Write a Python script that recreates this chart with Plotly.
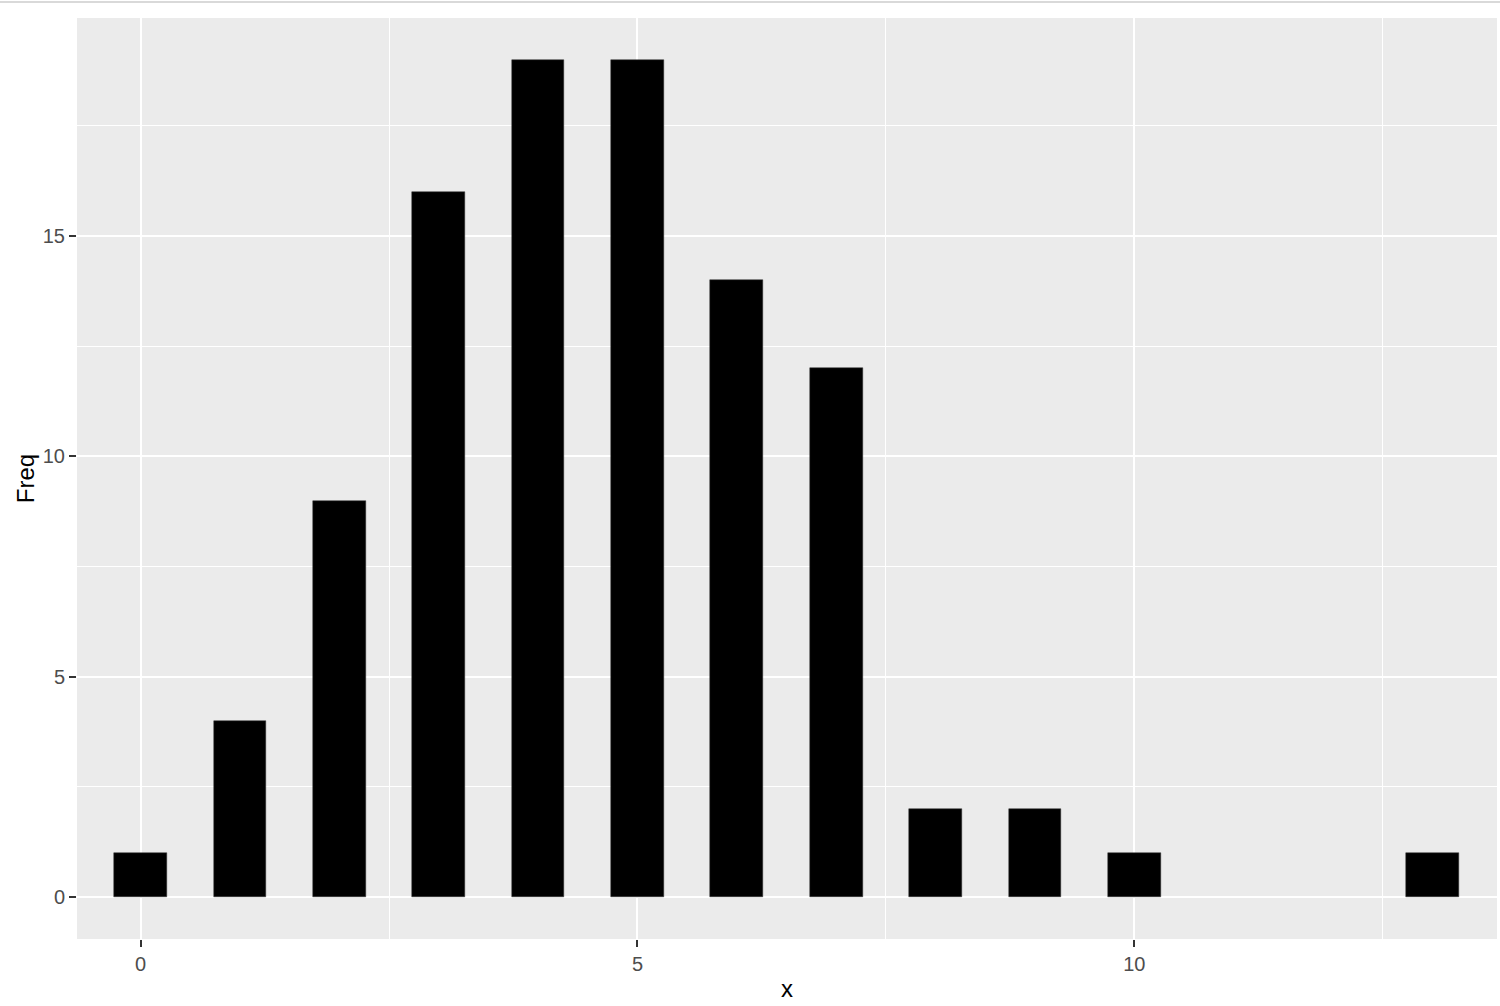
import plotly.graph_objects as go

# counts per x value
x_vals = [0, 1, 2, 3, 4, 5, 6, 7, 8, 9, 10, 13]
freq = [1, 4, 9, 16, 19, 19, 14, 12, 2, 2, 1, 1]

x_ticks = [0, 5, 10]
y_ticks = [0, 5, 10, 15]

fig = go.Figure()
fig.add_trace(go.Bar(
    x=x_vals, y=freq, width=0.53,
    marker=dict(color="black", line=dict(color="#333333", width=0.5)),
))

grid = "white"
fig.update_layout(
    width=1500, height=1006,
    margin=dict(l=77, r=3, t=18, b=67),
    plot_bgcolor="#EBEBEB",
    paper_bgcolor="white",
    showlegend=False,
    font=dict(family="Liberation Sans, Arial, sans-serif"),
    bargap=0,
)
fig.update_xaxes(
    range=[-0.64, 13.65],
    tickvals=x_ticks, ticktext=[str(v) for v in x_ticks],
    ticks="outside", ticklen=7, tickwidth=2, tickcolor="#333333",
    tickfont=dict(size=20, color="#4D4D4D"),
    showgrid=True, gridcolor=grid, gridwidth=2,
    minor=dict(tickvals=[2.5, 7.5, 12.5], showgrid=True, gridcolor=grid, gridwidth=1, ticks=""),
    zeroline=False, showline=False,
    title=dict(text="x", font=dict(size=24, color="black"), standoff=6),
)
fig.update_yaxes(
    range=[-0.95, 19.95],
    tickvals=y_ticks, ticktext=[str(v) for v in y_ticks],
    ticks="outside", ticklen=7, tickwidth=2, tickcolor="#333333",
    tickfont=dict(size=20, color="#4D4D4D"),
    showgrid=True, gridcolor=grid, gridwidth=2,
    minor=dict(tickvals=[2.5, 7.5, 12.5, 17.5], showgrid=True, gridcolor=grid, gridwidth=1, ticks=""),
    zeroline=False, showline=False,
    title=dict(text="Freq", font=dict(size=24, color="black"), standoff=1),
)

# thin border line at the very top of the image
fig.add_shape(type="line", xref="paper", yref="paper",
              x0=-0.06, x1=1.01, y0=1.0174, y1=1.0174,
              line=dict(color="#D9D9D9", width=2))

# drop the default page margin so the figure sits at the window origin
fig.write_html("out.html", config={"displayModeBar": False},
               post_script="document.body.style.margin='0';document.body.style.overflow='hidden';")
